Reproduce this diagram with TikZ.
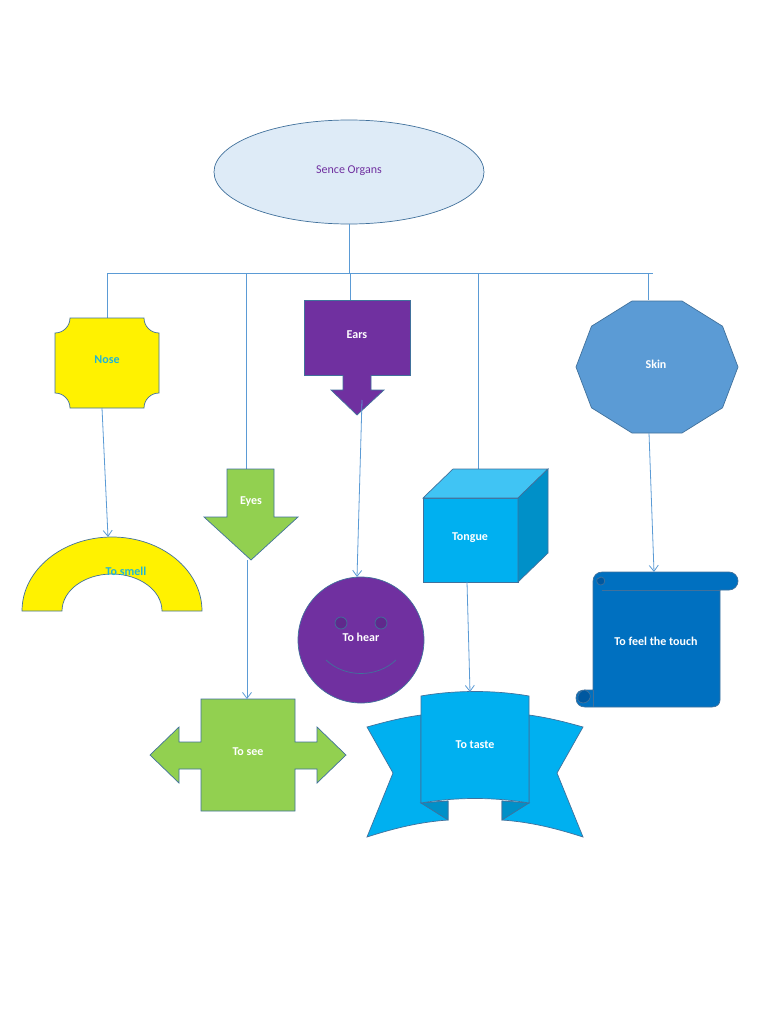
\documentclass[tikz,border=0pt]{standalone}
\usepackage{fontspec}
\setmainfont{Carlito}
\usetikzlibrary{arrows.meta}
\definecolor{edge}{HTML}{41719C}
\definecolor{conn}{HTML}{5B9BD5}
\definecolor{purp}{HTML}{7030A0}
\definecolor{grn}{HTML}{92D050}
\definecolor{cy}{HTML}{00B0F0}
\definecolor{cyt}{HTML}{40C4F4}
\definecolor{cyd}{HTML}{0090C8}
\definecolor{skin}{HTML}{5B9BD5}
\definecolor{scr}{HTML}{0070C0}
\definecolor{scrd}{HTML}{0058A0}
\definecolor{teal}{HTML}{1FB5D5}
\begin{document}
\begin{tikzpicture}[x=1pt,y=-1pt,
  shp/.style={draw=edge,line width=0.7pt},
  lab/.style={font=\fontsize{12}{14}\selectfont\bfseries,text=white,inner sep=0pt},
  conn/.style={draw=conn,line width=0.8pt},
  arr/.style={conn,-{Straight Barb[length=6pt,width=9pt]}}]
\useasboundingbox (0,0) rectangle (768,1024);
\fill[white] (0,0) rectangle (768,1024);
% root
\draw[shp,fill={rgb,255:red,222;green,235;blue,247}] (349,172) ellipse [x radius=135pt,y radius=52pt];
\node[lab,text=purp,font=\fontsize{12}{14}\selectfont] (root) at (349,171) {Sence Organs};
% tree lines
\coordinate (rb) at (349,224); \coordinate (bus) at (349,273);
\coordinate (bl) at (107,273); \coordinate (br) at (653,273);
\draw[conn] (rb) -- (bus); \draw[conn] (bl) -- (br);
\coordinate (t1) at (107,318); \coordinate (t2) at (246,469); \coordinate (t3) at (350,300);
\coordinate (t4) at (478,469); \coordinate (t5) at (648,300);
\draw[conn] (107,273) -- (t1); \draw[conn] (246,273) -- (t2); \draw[conn] (350,273) -- (t3);
\draw[conn] (478,273) -- (t4); \draw[conn] (648,273) -- (t5);
% Nose plaque
\draw[shp,fill=yellow] (70,318) -- (144,318) .. controls (144,326.3) and (150.7,333) .. (159,333)
 -- (159,393) .. controls (150.7,393) and (144,399.7) .. (144,408)
 -- (70,408) .. controls (70,399.7) and (63.3,393) .. (55,393)
 -- (55,333) .. controls (63.3,333) and (70,326.3) .. (70,318) -- cycle;
\node[lab,text=teal] (nose) at (107,360) {Nose};
% To smell arch
\draw[shp,fill=yellow] (22,611) arc[start angle=180,end angle=0,x radius=90pt,y radius=74pt]
 -- (162,611) arc[start angle=0,end angle=180,x radius=50pt,y radius=37pt] -- cycle;
\node[lab,text=teal] (smell) at (126,571) {To smell};
\coordinate (n1) at (102,408); \coordinate (s1) at (108,537);
\draw[arr] (n1) -- (s1);
% Eyes arrow
\draw[shp,fill=grn] (227,469) -- (274,469) -- (274,517) -- (298,517) -- (251,560) -- (204,517) -- (227,517) -- cycle;
\node[lab] (eyes) at (251,502) {Eyes};
% To see
\draw[shp,fill=grn] (201,699) -- (295,699) -- (295,742) -- (317,742) -- (317,727) -- (346,755) -- (317,783) -- (317,769)
 -- (295,769) -- (295,811) -- (201,811) -- (201,769) -- (179,769) -- (179,783) -- (150,755) -- (179,727) -- (179,742) -- (201,742) -- cycle;
\node[lab] (see) at (248,752) {To see};
\coordinate (e1) at (247,560); \coordinate (se1) at (247,699);
\draw[arr] (e1) -- (se1);
% Ears
\draw[shp,fill=purp] (304,300) rectangle (410,375);
\draw[shp,fill=purp] (343,375) -- (343,390) -- (331,390) -- (357,415) -- (384,390) -- (371,390) -- (371,375);
\fill[purp] (344,374) rectangle (370,391);
\node[lab] (ears) at (357,335) {Ears};
% To hear
\draw[shp,fill=purp] (361,640) circle[radius=63pt];
\draw[shp,fill={rgb,255:red,96;green,40;blue,140}] (341,623) circle[radius=6pt] (381,623) circle[radius=6pt];
\draw[shp] (326,660) .. controls (345,678) and (377,678) .. (396,660);
\node[lab] (hear) at (361,637) {To hear};
\coordinate (ea1) at (362,400); \coordinate (h1) at (357,577);
\draw[arr] (ea1) -- (h1);
% Tongue cube
\draw[shp,fill=cy] (423,498) rectangle (518,582);
\draw[shp,fill=cyt] (423,498) -- (453,469) -- (548,469) -- (518,498) -- cycle;
\draw[shp,fill=cyd] (518,498) -- (548,469) -- (548,553) -- (518,582) -- cycle;
\node[lab] (tongue) at (470,538) {Tongue};
% ribbon
\draw[shp,fill=cy] (421,715) .. controls (400,718) and (385,722) .. (367,727) -- (393,773) -- (367,837)
 .. controls (395,828) and (420,822) .. (448,820) -- (448,801) -- (421,803) -- cycle;
\draw[shp,fill=cy] (529,715) .. controls (550,718) and (565,722) .. (583,727) -- (557,773) -- (583,837)
 .. controls (555,828) and (530,822) .. (502,820) -- (502,801) -- (529,803) -- cycle;
\draw[shp,fill=cyd] (421,803) -- (448,820) -- (448,801) -- cycle;
\draw[shp,fill=cyd] (529,803) -- (502,820) -- (502,801) -- cycle;
\draw[shp,fill=cy] (421,696) .. controls (455,690) and (495,690) .. (529,696) -- (529,803)
 .. controls (495,797) and (455,797) .. (421,803) -- cycle;
\node[lab] (taste) at (475,745) {To taste};
\coordinate (c1) at (467,582); \coordinate (ta1) at (470,692);
\draw[arr] (c1) -- (ta1);
% Skin decagon
\draw[shp,fill=skin] (738,367) -- (722.5,326.2) -- (682,301) -- (632,301) -- (591.5,326.2) -- (576,367)
 -- (591.5,407.8) -- (632,433) -- (682,433) -- (722.5,407.8) -- cycle;
\node[lab] (skin) at (656,364) {Skin};
% scroll
\draw[shp,fill=scr] (576,698) .. controls (576,692) and (580,690) .. (585,690) -- (593,690) -- (593,581)
 .. controls (593,576) and (597,572) .. (602,572) -- (729,572) .. controls (734,572) and (738,576) .. (738,581)
 .. controls (738,586) and (734,590) .. (729,590) -- (720,590) -- (720,700) .. controls (720,704) and (717,707) .. (712,707)
 -- (585,707) .. controls (580,707) and (576,704) .. (576,698) -- cycle;
\draw[shp] (602,590) -- (720,590);
\draw[shp,fill=scrd] (601,577) .. controls (606,577) and (606,585) .. (601,585) .. controls (598,585) and (596,582) .. (597,579) -- cycle;
\draw[shp,fill=scrd] (585,690) .. controls (590,692) and (592,696) .. (589,700) .. controls (586,704) and (580,704) .. (578,700)
 .. controls (577,694) and (581,690) .. (585,690) -- cycle;
\draw[shp] (593,690) -- (593,707);
\node[lab] (touch) at (656,641) {To feel the touch};
\coordinate (sk1) at (649,433); \coordinate (sc1) at (654,572);
\draw[arr] (sk1) -- (sc1);
\end{tikzpicture}
\end{document}
